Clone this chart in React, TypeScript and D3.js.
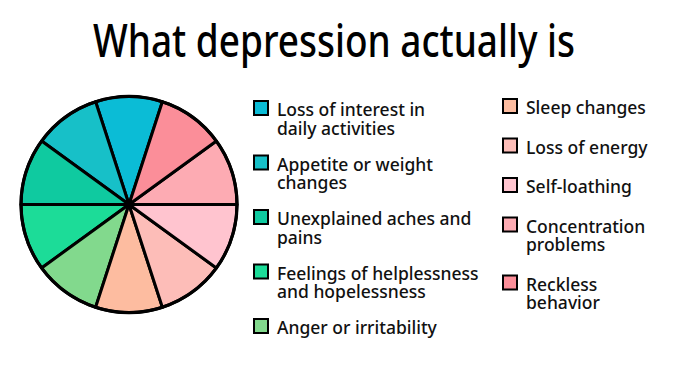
import React from "react";
import * as d3 from "d3";

const title = "What depression actually is";
const categories = [
  "Loss of interest in daily activities",
  "Appetite or weight changes",
  "Unexplained aches and pains",
  "Feelings of helplessness and hopelessness",
  "Anger or irritability",
  "Sleep changes",
  "Loss of energy",
  "Self-loathing",
  "Concentration problems",
  "Reckless behavior",
];
const legendLines = [
  ["Loss of interest in", "daily activities"],
  ["Appetite or weight", "changes"],
  ["Unexplained aches and", "pains"],
  ["Feelings of helplessness", "and hopelessness"],
  ["Anger or irritability"],
  ["Sleep changes"],
  ["Loss of energy"],
  ["Self-loathing"],
  ["Concentration", "problems"],
  ["Reckless", "behavior"],
];
const values = [1, 1, 1, 1, 1, 1, 1, 1, 1, 1];
const colors = [
  "#0bbcd6",
  "#17c0c8",
  "#0fcaa0",
  "#1cdc98",
  "#82d98d",
  "#fdbca0",
  "#fdbdb8",
  "#ffc4cf",
  "#fdabb3",
  "#fb8e99",
];

const W = 700;
const H = 368;
const FONT = "'Noto Sans', 'DejaVu Sans', sans-serif";

export default function App() {
  const cx = 129;
  const cy = 204.5;
  const r = 108;
  const deg = Math.PI / 180;
  const pie = d3
    .pie<number>()
    .sort(null)
    .startAngle(18 * deg)
    .endAngle(18 * deg - 2 * Math.PI);
  const arcs = pie(values);
  const arc = d3.arc<d3.PieArcDatum<number>>().innerRadius(0).outerRadius(r);

  // legend layout
  const lineH = 18.5;
  const cols = [
    { x: 253, idx: [0, 1, 2, 3, 4], start: 116, gap: 17.5 },
    { x: 502, idx: [5, 6, 7, 8, 9], start: 114, gap: 21 },
  ];
  const items: { i: number; x: number; y: number }[] = [];
  cols.forEach((c) => {
    let y = c.start;
    c.idx.forEach((i) => {
      items.push({ i, x: c.x, y });
      y += legendLines[i].length * lineH + c.gap;
    });
  });

  return (
    <svg
      width={W}
      height={H}
      style={{ position: "absolute", left: 0, top: 0, background: "#fff" }}
    >
      <rect width={W} height={H} fill="#fff" />
      <text
        x={334}
        y={57}
        textAnchor="middle"
        fontFamily={FONT}
        fontSize={45}
        fontWeight={500}
        fill="#000"
        textLength={482}
        lengthAdjust="spacingAndGlyphs"
      >
        {title}
      </text>
      <g transform={`translate(${cx},${cy})`}>
        {arcs.map((a, i) => (
          <path
            key={categories[i]}
            d={arc(a) || ""}
            fill={colors[i]}
            stroke="#000"
            strokeWidth={3}
            strokeLinejoin="round"
          />
        ))}
        <circle r={r} fill="none" stroke="#000" strokeWidth={3.2} />
      </g>
      {items.map(({ i, x, y }) => (
        <g key={categories[i]}>
          <rect
            x={x + 1}
            y={y - 15}
            width={14}
            height={14}
            fill={colors[i]}
            stroke="#000"
            strokeWidth={2}
          />
          {legendLines[i].map((t, k) => (
            <text
              key={t}
              x={x + 24}
              y={y + k * lineH}
              fontFamily={FONT}
              fontSize={17.5}
              fontWeight={500}
              fill="#111"
            >
              {t}
            </text>
          ))}
        </g>
      ))}
    </svg>
  );
}
